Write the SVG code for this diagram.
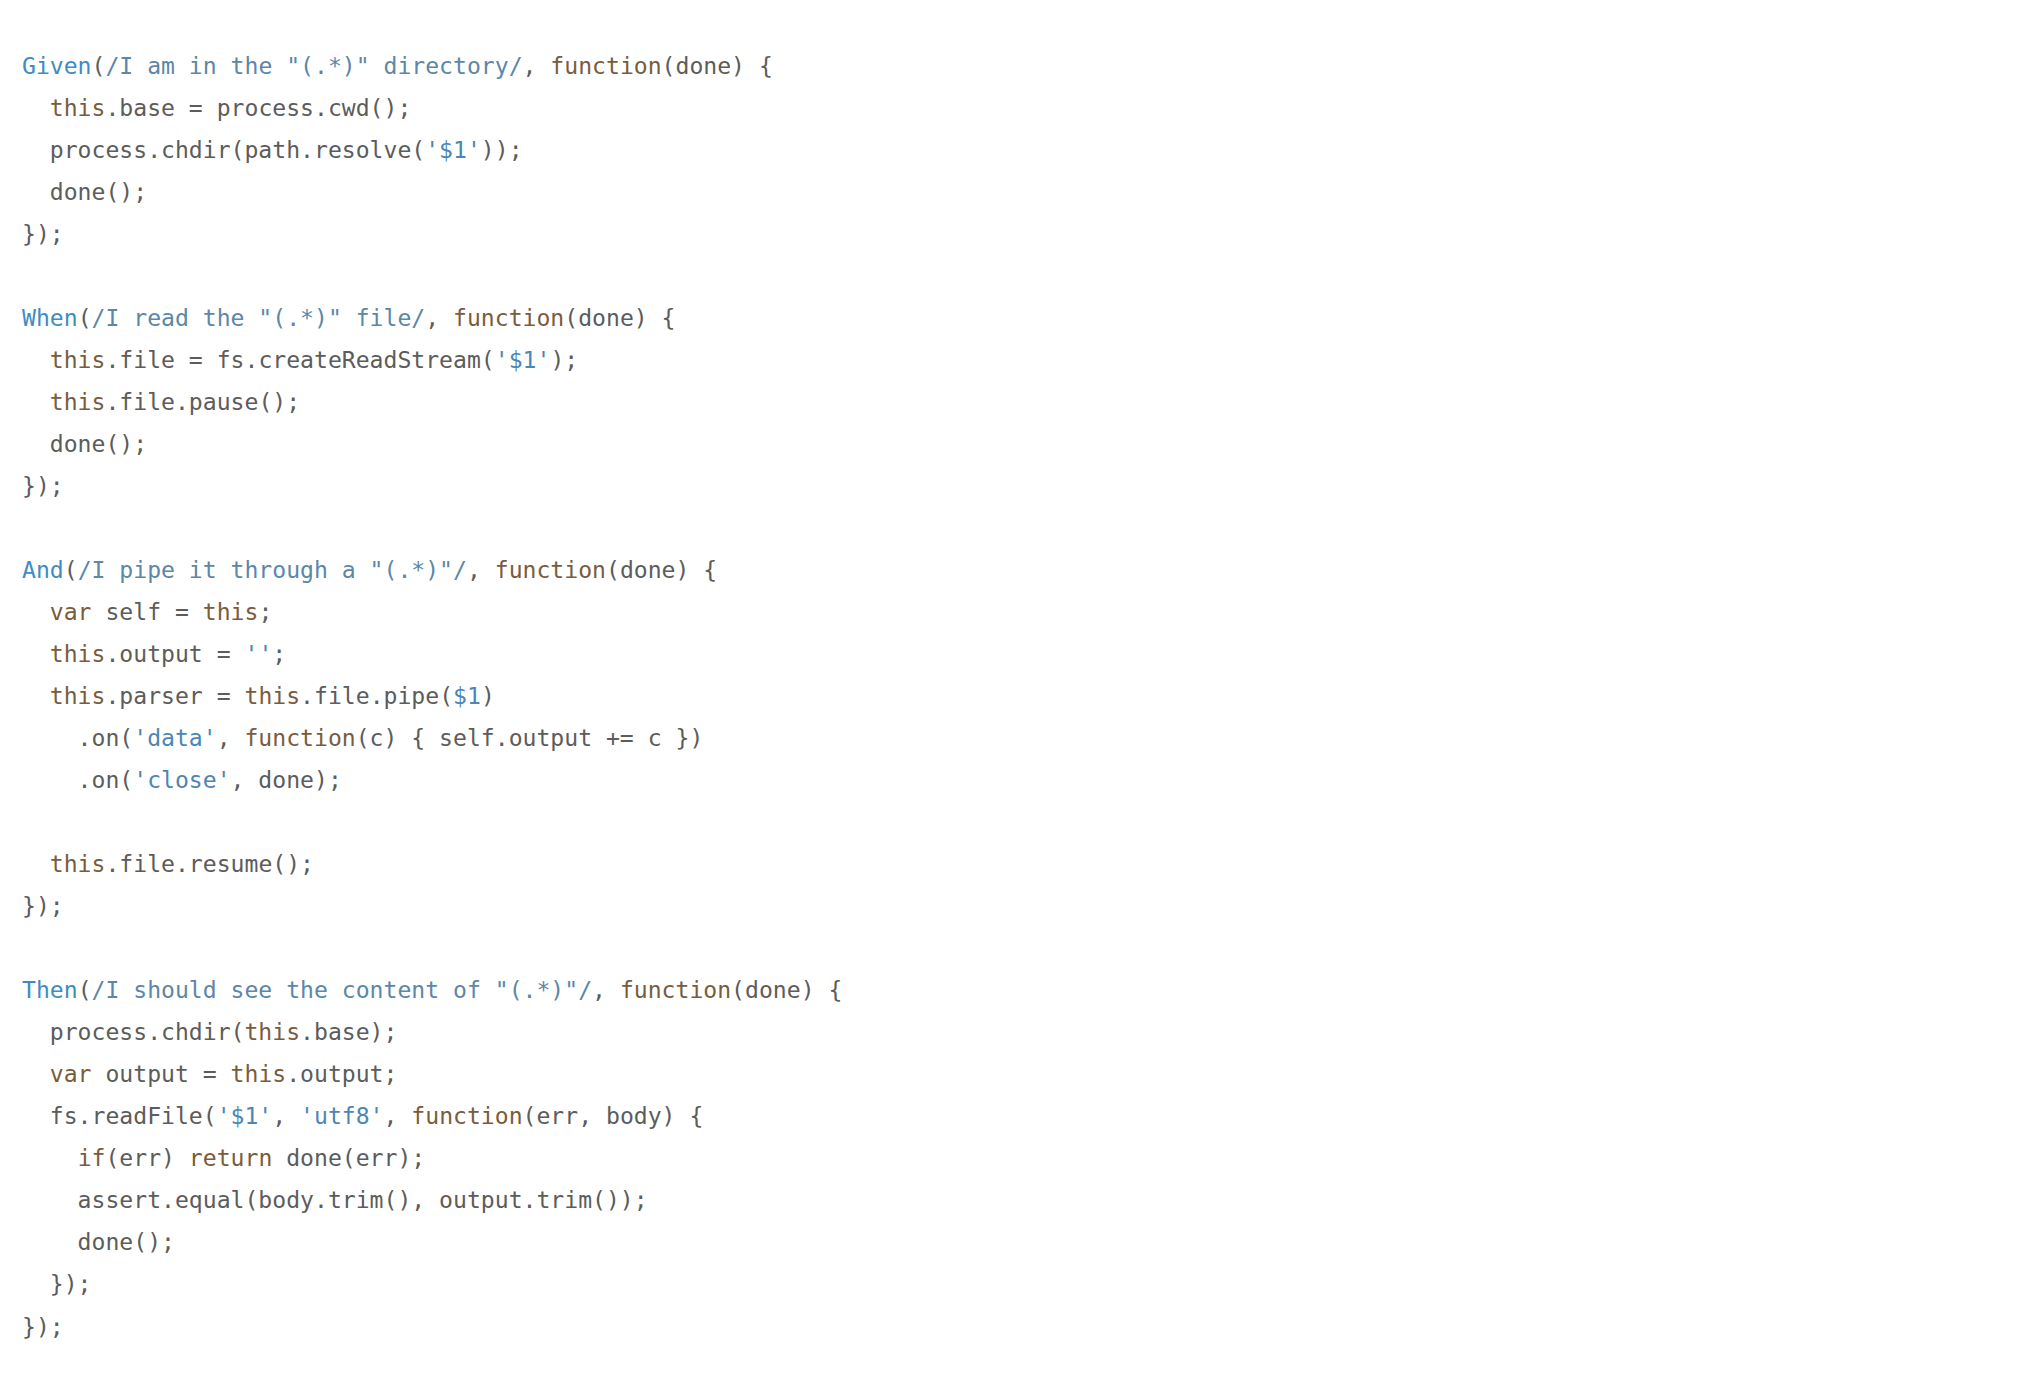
<svg xmlns="http://www.w3.org/2000/svg" width="2030" height="1378" viewBox="0 0 2030 1378">
<style>
text{font-family:"DejaVu Sans Mono","Liberation Mono",monospace;font-size:23.1px;fill:#5c5c5c;white-space:pre}
.k{fill:#3f8cc4}.r{fill:#5b87a8}.s{fill:#4c86b4}.b{fill:#7a5c3c}
</style>
<rect width="2030" height="1378" fill="#fff"/>
<g id="code" xml:space="preserve">
<text x="22" y="74"><tspan class="k">Given</tspan>(<tspan class="r">/I am in the "(.*)" directory/</tspan>, <tspan class="b">function</tspan>(done) {</text>
<text x="22" y="116">  <tspan class="b">this</tspan>.base = process.cwd();</text>
<text x="22" y="158">  process.chdir(path.resolve(<tspan class="s">'$1'</tspan>));</text>
<text x="22" y="200">  done();</text>
<text x="22" y="242">});</text>
<text x="22" y="326"><tspan class="k">When</tspan>(<tspan class="r">/I read the "(.*)" file/</tspan>, <tspan class="b">function</tspan>(done) {</text>
<text x="22" y="368">  <tspan class="b">this</tspan>.file = fs.createReadStream(<tspan class="s">'$1'</tspan>);</text>
<text x="22" y="410">  <tspan class="b">this</tspan>.file.pause();</text>
<text x="22" y="452">  done();</text>
<text x="22" y="494">});</text>
<text x="22" y="578"><tspan class="k">And</tspan>(<tspan class="r">/I pipe it through a "(.*)"/</tspan>, <tspan class="b">function</tspan>(done) {</text>
<text x="22" y="620">  <tspan class="b">var</tspan> self = <tspan class="b">this</tspan>;</text>
<text x="22" y="662">  <tspan class="b">this</tspan>.output = <tspan class="s">''</tspan>;</text>
<text x="22" y="704">  <tspan class="b">this</tspan>.parser = <tspan class="b">this</tspan>.file.pipe(<tspan class="s">$1</tspan>)</text>
<text x="22" y="746">    .on(<tspan class="s">'data'</tspan>, <tspan class="b">function</tspan>(c) { self.output += c })</text>
<text x="22" y="788">    .on(<tspan class="s">'close'</tspan>, done);</text>
<text x="22" y="872">  <tspan class="b">this</tspan>.file.resume();</text>
<text x="22" y="914">});</text>
<text x="22" y="998"><tspan class="k">Then</tspan>(<tspan class="r">/I should see the content of "(.*)"/</tspan>, <tspan class="b">function</tspan>(done) {</text>
<text x="22" y="1040">  process.chdir(<tspan class="b">this</tspan>.base);</text>
<text x="22" y="1082">  <tspan class="b">var</tspan> output = <tspan class="b">this</tspan>.output;</text>
<text x="22" y="1124">  fs.readFile(<tspan class="s">'$1'</tspan>, <tspan class="s">'utf8'</tspan>, <tspan class="b">function</tspan>(err, body) {</text>
<text x="22" y="1166">    <tspan class="b">if</tspan>(err) <tspan class="b">return</tspan> done(err);</text>
<text x="22" y="1208">    assert.equal(body.trim(), output.trim());</text>
<text x="22" y="1250">    done();</text>
<text x="22" y="1292">  });</text>
<text x="22" y="1335">});</text>
</g>
</svg>
